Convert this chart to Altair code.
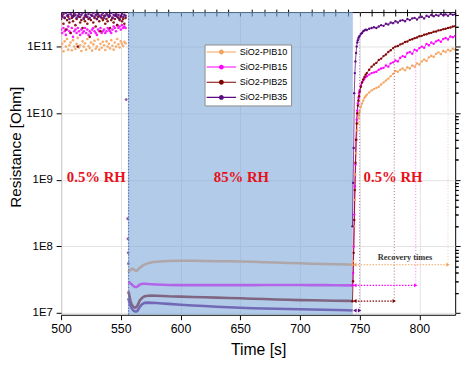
import altair as alt
import pandas as pd

series = ["SiO2-PIB10", "SiO2-PIB15", "SiO2-PIB25", "SiO2-PIB35"]
colors = ["#f4a460", "#ff00ff", "#800000", "#5c0a82"]

# ---- 0.5% RH, before humidity step: 500..554 s, values x 1e11 Ohm ----
t_low = list(range(500, 555))
low_pib10 = [0.95, 1.10, 0.85, 1.20, 1.00, 1.30, 0.90, 1.05, 1.15, 0.88, 1.25,
             1.00, 0.92, 1.10, 1.35, 0.97, 1.05, 0.86, 1.20, 1.00, 1.12, 0.90,
             1.30, 1.02, 0.95, 1.15, 0.87, 1.08, 1.22, 0.93, 1.00, 1.28, 0.90,
             1.10, 0.96, 1.18, 1.05, 0.89, 1.20, 1.00, 1.10, 0.94, 1.25, 1.03,
             0.90, 1.15, 1.00, 1.30, 1.08, 0.97, 1.20, 1.10, 1.02, 1.18, 1.12]
low_pib15 = [1.8, 1.6, 1.9, 1.7, 1.5, 1.8, 2.0, 1.7, 1.6, 1.9, 1.4,
             1.7, 1.8, 1.6, 1.9, 1.7, 1.5, 1.8, 1.6, 1.7, 1.9, 1.6,
             1.8, 1.5, 1.7, 1.6, 1.8, 1.9, 1.7, 1.6, 1.5, 1.8, 1.7,
             1.9, 1.6, 1.7, 1.8, 1.6, 1.7, 1.9, 1.8, 1.7, 1.6, 1.8,
             2.0, 1.9, 1.7, 2.1, 1.9, 2.0, 1.8, 2.1, 1.9, 2.0, 1.9]
low_pib25 = [2.6, 2.9, 2.2, 2.7, 1.8, 2.5, 2.8, 2.3, 1.6, 2.7, 2.4,
             2.9, 2.1, 2.6, 1.0, 2.8, 2.3, 2.5, 1.9, 2.7, 2.4, 2.8,
             2.2, 2.6, 1.4, 2.5, 2.9, 2.3, 2.7, 2.0, 2.6, 2.8, 2.4,
             1.7, 2.7, 2.5, 2.9, 2.2, 2.6, 2.4, 2.8, 1.9, 2.5, 2.7,
             2.3, 2.6, 2.9, 2.1, 2.7, 2.5, 2.8, 2.4, 2.6, 2.2, 2.7]
low_pib35 = [3.0, 2.8, 3.1, 2.7, 3.2, 2.9, 3.0, 2.6, 3.1, 2.9, 2.8,
             3.2, 3.0, 2.7, 2.9, 3.1, 2.8, 3.0, 3.2, 2.6, 2.9, 3.0,
             2.8, 3.1, 2.7, 3.0, 2.9, 3.2, 2.8, 3.0, 2.6, 3.1, 2.9,
             2.8, 3.0, 3.2, 2.7, 2.9, 3.1, 3.0, 2.8, 2.9, 3.2, 2.7,
             3.0, 2.9, 3.1, 2.8, 3.0, 2.6, 2.9, 3.1, 2.8, 3.0, 2.9]

# ---- 85% RH: values x 1e7 Ohm ----
t_mid = [556.5, 557, 558, 559, 560, 561, 562, 563, 564, 565, 566, 568, 570, 573,
         576, 580, 585, 590, 600, 610, 620, 630, 640, 650, 660, 670, 680, 690,
         700, 710, 720, 730, 740, 744]
mid_pib10 = [4.1, 4.3, 4.4, 4.6, 4.6, 4.5, 4.35, 4.3, 4.4, 4.6, 4.8, 5.1, 5.35, 5.6,
             5.8, 5.9, 6.0, 6.05, 6.1, 6.1, 6.05, 6.0, 6.0, 5.95, 5.9, 5.8, 5.75,
             5.65, 5.6, 5.5, 5.45, 5.4, 5.35, 5.3]
mid_pib15 = [2.95, 2.9, 2.8, 2.7, 2.6, 2.5, 2.45, 2.45, 2.5, 2.6, 2.68, 2.75, 2.75,
             2.72, 2.7, 2.68, 2.65, 2.63, 2.62, 2.62, 2.62, 2.62, 2.62, 2.62, 2.62,
             2.63, 2.63, 2.63, 2.63, 2.62, 2.62, 2.61, 2.6, 2.6]
mid_pib25 = [2.1, 1.9, 1.55, 1.35, 1.27, 1.22, 1.2, 1.22, 1.3, 1.42, 1.55, 1.7, 1.78,
             1.82, 1.83, 1.82, 1.8, 1.78, 1.76, 1.74, 1.72, 1.7, 1.68, 1.66, 1.64,
             1.62, 1.6, 1.58, 1.56, 1.55, 1.54, 1.53, 1.52, 1.51]
mid_pib35 = [1.66, 1.5, 1.3, 1.18, 1.12, 1.07, 1.05, 1.05, 1.08, 1.15, 1.25, 1.36,
             1.42, 1.43, 1.42, 1.41, 1.39, 1.37, 1.33, 1.3, 1.27, 1.24, 1.22, 1.2,
             1.18, 1.17, 1.16, 1.15, 1.14, 1.13, 1.12, 1.11, 1.1, 1.09]

# ---- drop of PIB35 at the humidity step ----
t_drop = [554.5, 555.8, 556.0, 556.2, 556.4]
drop_pib35 = [1.6e10, 2.6e8, 1.3e8, 8e7, 5.5e7]

# ---- recovery at 0.5% RH (Ohm) ----
t_rec = [744, 744.5, 745, 745.5, 746, 746.5, 747, 747.5, 748, 748.5, 749, 749.5,
         750, 751, 752, 753, 754, 755, 756,
         758, 760, 762, 764, 766, 768, 770, 772, 774, 776, 778, 780, 782, 784,
         786, 788, 790, 792, 794, 796, 798, 800, 802, 804, 806, 808, 810, 812,
         814, 816, 818, 820, 822, 824, 826, 828, 830]
rec_pib10 = [5.3e7, 6e7, 1e8, 2e8, 5e8, 1.2e9, 2.5e9, 4e9, 5.5e9, 7e9, 8.5e9, 9.5e9,
             1.05e10, 1.25e10, 1.4e10, 1.55e10, 1.7e10, 1.8e10, 1.9e10,
             2.05e10, 2.2e10, 2.3e10, 2.4e10, 2.5e10, 2.7e10, 2.9e10, 3.1e10, 3.3e10,
             3.6e10, 3.9e10, 4.3e10, 4.2e10, 4.5e10, 4.7e10, 4.4e10, 4.9e10, 4.7e10,
             5.2e10, 5.0e10, 5.6e10, 5.4e10, 6.0e10, 6.4e10, 6.1e10, 6.9e10, 7.3e10,
             7.0e10, 7.8e10, 8.2e10, 7.7e10, 8.6e10, 8.3e10, 9.0e10, 8.6e10, 9.3e10, 9.0e10]
rec_pib15 = [2.6e7, 4e7, 1e8, 3e8, 8e8, 1.7e9, 4e9, 8e9, 1.1e10, 1.4e10, 1.7e10, 2.0e10,
             2.2e10, 2.6e10, 2.9e10, 3.1e10, 3.3e10, 3.5e10, 3.6e10,
             3.8e10, 4.0e10, 4.1e10, 4.2e10, 4.5e10, 4.7e10, 4.8e10, 5.2e10, 5.0e10,
             5.6e10, 5.8e10, 6.2e10, 6.0e10, 6.8e10, 7.2e10, 7.0e10, 8.0e10, 8.3e10,
             7.8e10, 9.0e10, 8.7e10, 9.5e10, 1.0e11, 9.6e10, 1.1e11, 1.05e11, 1.15e11,
             1.1e11, 1.2e11, 1.25e11, 1.18e11, 1.3e11, 1.35e11, 1.28e11, 1.42e11, 1.38e11, 1.45e11]
rec_pib25 = [1.5e7, 3e7, 8e7, 2.5e8, 7e8, 1.8e9, 4e9, 7e9, 1.0e10, 1.3e10, 1.55e10, 1.8e10,
             2.1e10, 2.5e10, 2.9e10, 3.2e10, 3.5e10, 3.8e10, 4.0e10,
             4.5e10, 5.0e10, 5.4e10, 5.7e10, 6.3e10, 6.6e10, 7.2e10, 7.6e10, 8.3e10,
             8.8e10, 9.5e10, 1.0e11, 1.02e11, 1.08e11, 1.11e11, 1.17e11, 1.19e11, 1.26e11,
             1.29e11, 1.34e11, 1.37e11, 1.43e11, 1.45e11, 1.51e11, 1.53e11, 1.59e11, 1.61e11,
             1.67e11, 1.69e11, 1.75e11, 1.77e11, 1.83e11, 1.85e11, 1.91e11, 1.94e11, 2.0e11, 2.03e11]
rec_pib35 = [2e8, 9e8, 3e9, 2e10, 4e10, 6e10, 8e10, 1.0e11, 1.15e11, 1.25e11, 1.35e11, 1.4e11,
             1.45e11, 1.55e11, 1.6e11, 1.7e11, 1.75e11, 1.8e11, 1.78e11,
             1.85e11, 1.9e11, 1.95e11, 1.9e11, 2.0e11, 2.1e11, 2.05e11, 2.2e11, 2.15e11,
             2.3e11, 2.25e11, 2.4e11, 2.3e11, 2.45e11, 2.5e11, 2.4e11, 2.6e11, 2.5e11,
             2.65e11, 2.7e11, 2.55e11, 2.75e11, 2.8e11, 2.65e11, 2.9e11, 2.8e11, 3.0e11,
             2.85e11, 3.0e11, 2.9e11, 3.1e11, 2.95e11, 3.05e11, 2.9e11, 3.1e11, 3.0e11, 3.05e11]

# ---- recovery-time markers ----
rec_start = 746
rec_end = [824, 797, 779, 750]
rec_top = [9.0e10, 9.0e10, 1.0e11, 1.45e11]
rec_level = [5.3e7, 2.6e7, 1.51e7, 1.09e7]

# ---- humid region and annotations ----
rh_start, rh_end = 556.0, 744.3
rh_labels = ["0.5% RH", "85% RH", "0.5% RH"]
rh_label_t = [529.5, 651, 778]
rh_label_r = [1.1e9, 1.1e9, 1.1e9]
note_text, note_t, note_r = "Recovery times", 788, 6.9e7

x_lo, x_hi = 500, 830
y_lo, y_hi = 9.4e6, 3.3e11
x_major = [500, 550, 600, 650, 700, 750, 800]
x_all = list(range(500, 831, 10))
x_minor = [v for v in x_all if v % 50 != 0]
y_major = [1e7, 1e8, 1e9, 1e10, 1e11]
y_minor = [m * 10 ** e for e in range(7, 12) for m in range(2, 10) if m * 10 ** e < y_hi]


def frame(t, lists, mult=1.0, names=series):
    rows = []
    for s, vals in zip(names, lists):
        for ti, v in zip(t, vals):
            rows.append({"t": ti, "R": v * mult, "s": s})
    return pd.DataFrame(rows)


df_low = frame(t_low, [low_pib10, low_pib15, low_pib25, low_pib35], 1e11)
df_mid = frame(t_mid, [mid_pib10, mid_pib15, mid_pib25, mid_pib35], 1e7)
df_drop = frame(t_drop, [drop_pib35], 1.0, ["SiO2-PIB35"])
df_rec = frame(t_rec, [rec_pib10, rec_pib15, rec_pib25, rec_pib35])
df_mark = pd.DataFrame({"s": series, "t0": [rec_start] * 4, "t1": rec_end,
                        "top": rec_top, "lev": rec_level})
df_rh = pd.DataFrame({"t0": [rh_start], "t1": [rh_end], "r0": [y_lo], "r1": [y_hi]})
df_lab = pd.DataFrame({"txt": rh_labels, "t": rh_label_t, "R": rh_label_r})
df_note = pd.DataFrame({"txt": [note_text], "t": [note_t], "R": [note_r]})
df_v556 = pd.DataFrame({"t": [556.5], "r0": [y_lo], "r1": [y_hi]})

xs = alt.Scale(domain=[x_lo, x_hi], nice=False, zero=False)
ys = alt.Scale(type="log", domain=[y_lo, y_hi], nice=False)
cs = alt.Scale(domain=series, range=colors)
FONT = "Liberation Sans"

ax_x_major = alt.Axis(values=x_major, title="Time [s]", labelFontSize=12.5, titleFontSize=16,
                      grid=True, gridColor="#e2e2e2", tickSize=5, labelPadding=3,
                      titlePadding=7, domain=False, labelFlush=False)
ax_y_major = alt.Axis(values=y_major, labelExpr="'1E' + round(log(datum.value)/LN10)",
                      title="Resistance [Ohm]", labelFontSize=11.5, titleFontSize=15.5,
                      grid=True, gridColor="#e2e2e2", tickSize=5, labelPadding=4,
                      titlePadding=2, titleY=137, domain=False, labelFlush=False)
ax_x_minor = alt.Axis(values=x_minor, labels=False, tickSize=3, grid=False, domain=False, title=None)
ax_y_minor = alt.Axis(values=y_minor, labels=False, tickSize=3, grid=False, domain=False, title=None)
ax_x_top = alt.Axis(orient="top", values=x_all, labels=False, tickSize=4, offset=-4,
                    grid=False, domain=False, title=None)
ax_y_right = alt.Axis(orient="right", values=y_major, labels=False, tickSize=5,
                      grid=False, domain=False, title=None)
ax_y_right_minor = alt.Axis(orient="right", values=y_minor, labels=False, tickSize=3,
                            grid=False, domain=False, title=None)

sym = ("M-3.75,-0.13H3.75V0.13H-3.75Z "
       "M-0.62,0A0.62,0.62 0 1,1 0.62,0A0.62,0.62 0 1,1 -0.62,0Z")
legend = alt.Legend(title=None, orient="none", legendX=146, legendY=33, symbolType=sym,
                    symbolSize=64, symbolStrokeWidth=0, symbolOffset=9.5, labelOffset=14,
                    labelFontSize=9.2, labelFont=FONT, padding=3, rowPadding=5.4,
                    fillColor="white", strokeColor="#8c8c8c", symbolOpacity=1)

col_nolegend = alt.Color("s:N", scale=cs, legend=None)

low_pts = alt.Chart(df_low).mark_point(filled=True, size=7, opacity=0.9, clip=True).encode(
    x=alt.X("t:Q", scale=xs, axis=ax_x_major),
    y=alt.Y("R:Q", scale=ys, axis=ax_y_major),
    color=alt.Color("s:N", scale=cs, legend=legend))

mid_lines = alt.Chart(df_mid).mark_line(strokeWidth=2.6, clip=True).encode(
    x=alt.X("t:Q", axis=ax_x_minor), y=alt.Y("R:Q", axis=ax_y_minor), color=col_nolegend)

v556 = alt.Chart(df_v556).mark_rule(strokeDash=[1.5, 1.5], strokeWidth=1.2, color="#4b2a8a").encode(
    x=alt.X("t:Q", axis=None), y=alt.Y("r0:Q", axis=None), y2="r1:Q")

drop_pts = alt.Chart(df_drop).mark_point(filled=True, size=8, clip=True).encode(
    x=alt.X("t:Q", axis=None), y=alt.Y("R:Q", axis=None), color=col_nolegend)

shade = alt.Chart(df_rh).mark_rect(color="#7fa8d9", opacity=0.6).encode(
    x=alt.X("t0:Q", axis=None), x2="t1:Q", y=alt.Y("r0:Q", axis=None), y2="r1:Q")

rec_pts = alt.Chart(df_rec).mark_point(filled=True, size=6, opacity=0.95, clip=True).encode(
    x=alt.X("t:Q", axis=ax_x_top), y=alt.Y("R:Q", axis=ax_y_right), color=col_nolegend)

rec_lines = alt.Chart(df_rec).mark_line(strokeWidth=0.9, opacity=0.85, clip=True).encode(
    x=alt.X("t:Q", axis=None), y=alt.Y("R:Q", axis=ax_y_right_minor), color=col_nolegend)

mark_v = alt.Chart(df_mark).mark_rule(strokeDash=[1, 2], strokeWidth=1, opacity=0.6).encode(
    x=alt.X("t1:Q", axis=None), y=alt.Y("top:Q", axis=None), y2="lev:Q", color=col_nolegend)

mark_h = alt.Chart(df_mark).mark_rule(strokeDash=[1.5, 1.5], strokeWidth=1.2).encode(
    x=alt.X("t0:Q", axis=None), x2="t1:Q", y=alt.Y("lev:Q", axis=None), color=col_nolegend)

head_l = alt.Chart(df_mark).mark_point(shape="triangle-left", filled=True, size=16, opacity=1).encode(
    x=alt.X("t0:Q", axis=None), y=alt.Y("lev:Q", axis=None), color=col_nolegend)

head_r = alt.Chart(df_mark).mark_point(shape="triangle-right", filled=True, size=16, opacity=1).encode(
    x=alt.X("t1:Q", axis=None), y=alt.Y("lev:Q", axis=None), color=col_nolegend)

rh_text = alt.Chart(df_lab).mark_text(font="Liberation Serif", fontWeight="bold", fontSize=15,
                                       color="#e8101a", baseline="middle", align="center").encode(
    x=alt.X("t:Q", axis=None), y=alt.Y("R:Q", axis=None), text="txt:N")

note = alt.Chart(df_note).mark_text(font="Liberation Serif", fontWeight="bold", fontSize=8.5,
                                    color="#333333", baseline="middle", align="center").encode(
    x=alt.X("t:Q", axis=None), y=alt.Y("R:Q", axis=None), text="txt:N")

chart = alt.layer(
    low_pts, mid_lines, v556, drop_pts, shade, rec_lines, rec_pts,
    mark_v, mark_h, head_l, head_r, rh_text, note
).resolve_axis(x="independent", y="independent").properties(
    width=401, height=308,
    padding={"left": 54, "top": 1, "right": 11, "bottom": 51},
    autosize=alt.AutoSizeParams(type="none"),
).configure_view(stroke="black", strokeWidth=1).configure_axis(
    tickColor="black", labelColor="black", titleColor="black",
    labelFont=FONT, titleFont=FONT, titleFontWeight="normal", tickWidth=1
)

chart.save("out.html", embed_options={"renderer": "svg", "actions": False})
